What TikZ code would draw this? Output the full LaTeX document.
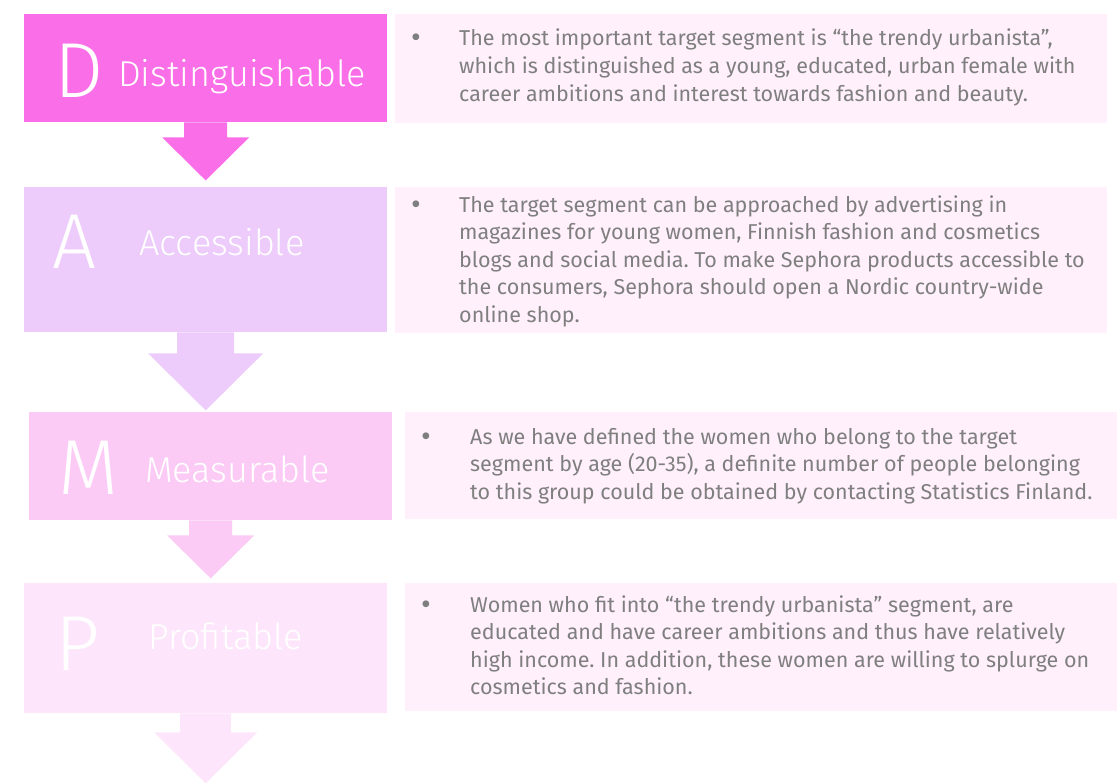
\documentclass[tikz,border=0pt]{standalone}
\usepackage{fontspec}
\setmainfont{Fira Sans}[UprightFont={* Light}]
\newfontfamily\bodyfont{Fira Sans}
\usepackage{tikz}
\frenchspacing
\definecolor{distpink}{RGB}{250,110,232}
\definecolor{acclilac}{RGB}{237,203,250}
\definecolor{measpink}{RGB}{251,203,246}
\definecolor{profpink}{RGB}{253,230,251}
\definecolor{infopink}{RGB}{255,240,251}
\definecolor{bodygray}{RGB}{127,127,127}
\tikzstyle{segbox} = [rectangle, anchor=north west, inner sep=0pt, minimum
width=363pt]
\tikzstyle{infobox} = [rectangle, anchor=north west, inner sep=0pt, minimum
width=712pt, fill=infopink]
\tikzstyle{bigletter} = [anchor=base west, inner sep=0pt, text=white,
font=\fontsize{78}{78}\selectfont]
\tikzstyle{heading} = [anchor=base west, inner sep=0pt, text=white,
font=\fontsize{36}{36}\selectfont]
\tikzstyle{bullet} = [anchor=base, inner sep=0pt, text=bodygray,
font=\bodyfont\fontsize{30}{30}\selectfont]
\tikzstyle{infotext} = [anchor=base west, inner sep=0pt, text=bodygray,
align=left, font=\bodyfont\fontsize{21.5}{27.5}\selectfont]

\begin{document}
\begin{tikzpicture}[x=1pt, y=-1pt]
\useasboundingbox (0,0) rectangle (1117,784);

\node(dist)[segbox, fill=distpink, minimum height=108pt] at (24,14){};
\node(acc)[segbox, fill=acclilac, minimum height=145pt] at (24,187){};
\node(meas)[segbox, fill=measpink, minimum height=108pt] at (29,412){};
\node(prof)[segbox, fill=profpink, minimum height=130pt] at (24,583){};

\node(distL)[bigletter] at (54,97){D};
\node(distH)[heading] at (118,86){Distinguishable};
\node(accL)[bigletter] at (52,268){A};
\node(accH)[heading] at (139,255){Accessible};
\node(measL)[bigletter] at (58,494){M};
\node(measH)[heading] at (145,482){Measurable};
\node(profL)[bigletter] at (55,670){P};
\node(profH)[heading] at (148,649){Profitable};

\fill[distpink]([xshift=-21.5pt]dist.south) -- ++(0,15) -- ++(-22,0) --
++(43.5,43) -- ++(43.5,-43) -- ++(-22,0) -- ++(0,-15) -- cycle;
\fill[acclilac]([xshift=-28.5pt]acc.south) -- ++(0,21) -- ++(-29,0) --
++(57.5,57) -- ++(57.5,-57) -- ++(-29,0) -- ++(0,-21) -- cycle;
\fill[measpink]([xshift=-21.5pt]meas.south) -- ++(0,15) -- ++(-22,0) --
++(43.5,43) -- ++(43.5,-43) -- ++(-22,0) -- ++(0,-15) -- cycle;
\fill[profpink]([xshift=-25.5pt]prof.south) -- ++(0,19) -- ++(-26,0) --
++(51.5,51) -- ++(51.5,-51) -- ++(-26,0) -- ++(0,-19) -- cycle;

\node(distinfo)[infobox, minimum height=109pt] at (395,14){};
\node(accinfo)[infobox, minimum height=146pt] at (395,187){};
\node(measinfo)[infobox, minimum height=107pt] at (405,412){};
\node(profinfo)[infobox, minimum height=128pt] at (405,583){};

% base of a multi-line node is its last line
\node(distdot)[bullet] at (416,48){•};
\node(disttext)[infotext] at (459,101){The most important target segment is
“the trendy urbanista”,\\ which is distinguished as a young, educated, urban
female with\\ career ambitions and interest towards fashion and beauty.};
\node(accdot)[bullet] at (416,214){•};
\node(acctext)[infotext] at (459,322){The target segment can be approached by
advertising in\\ magazines for young women, Finnish fashion and cosmetics\\
blogs and social media. To make Sephora products accessible to\\ the
consumers, Sephora should open a Nordic country-wide\\ online shop.};
\node(measdot)[bullet] at (426,446){•};
\node(meastext)[infotext] at (470,499){As we have defined the women who belong
to the target\\ segment by age (20-35), a definite number of people
belonging\\ to this group could be obtained by contacting Statistics
Finland.};
\node(profdot)[bullet] at (426,614){•};
\node(proftext)[infotext] at (470,694.5){Women who fit into “the trendy
urbanista” segment, are\\ educated and have career ambitions and thus have
relatively\\ high income. In addition, these women are willing to splurge
on\\ cosmetics and fashion.};

\end{tikzpicture}
\end{document}
